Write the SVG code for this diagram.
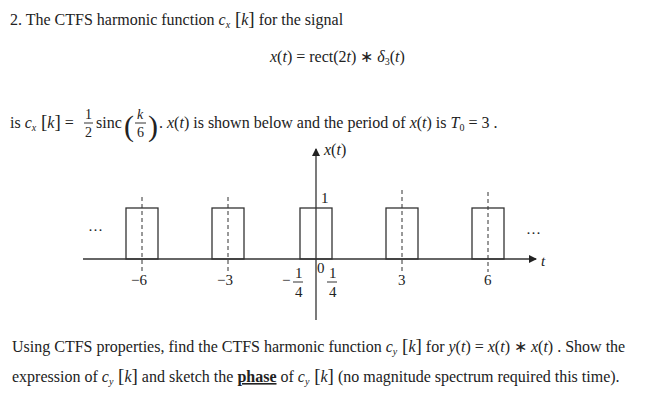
<svg xmlns="http://www.w3.org/2000/svg" width="647" height="411" viewBox="0 0 647 411">
<style>
text{font-family:"Liberation Serif","Times New Roman",serif;fill:#222}
.t{font-size:16px}
.i{font-style:italic}
.s{font-size:10px}
.b{font-size:19px}
.f{font-size:14px}
.p{font-size:30px}
.l{font-size:15px}
.ax{stroke:#333;stroke-width:1.3;fill:none}
.r{stroke:#333;stroke-width:1.3;fill:none}
.d{stroke:#333;stroke-width:1;stroke-dasharray:4,3;fill:none}
</style>
<defs><marker id="ah" markerWidth="8" markerHeight="8" refX="7" refY="4" orient="auto" markerUnits="userSpaceOnUse"><path d="M0,0L8,4L0,8z" fill="#222"/></marker></defs>
<g id="text">
<text class="t" x="10" y="25">2. The CTFS harmonic function <tspan class="i">c</tspan><tspan class="i s" dy="3">x</tspan><tspan dy="-3" class="b"> [</tspan><tspan class="i">k</tspan><tspan class="b">]</tspan> for the signal</text>
<text class="t" x="270" y="62"><tspan class="i">x</tspan>(<tspan class="i">t</tspan>) = rect(2<tspan class="i">t</tspan>) ∗ <tspan class="i">δ</tspan><tspan class="s" dy="3">3</tspan><tspan dy="-3">(</tspan><tspan class="i">t</tspan>)</text>
<text class="t" x="10" y="128">is <tspan class="i">c</tspan><tspan class="i s" dy="3">x</tspan><tspan dy="-3" class="b"> [</tspan><tspan class="i">k</tspan><tspan class="b">]</tspan> =</text>
<text class="f" x="85" y="119">1</text><line x1="84" y1="123" x2="93" y2="123" stroke="#333"/><text class="f" x="85" y="137">2</text>
<text class="t" x="96" y="128">sinc</text>
<text class="p" x="124" y="136">(</text>
<text class="f i" x="137" y="119">k</text><line x1="135" y1="123" x2="146" y2="123" stroke="#333"/><text class="f" x="137" y="137">6</text>
<text class="p" x="148" y="136">)</text>
<text class="t" x="159" y="128">. <tspan class="i">x</tspan>(<tspan class="i">t</tspan>) is shown below and the period of <tspan class="i">x</tspan>(<tspan class="i">t</tspan>) is <tspan class="i">T</tspan><tspan class="s" dy="3">0</tspan><tspan dy="-3"> = 3 .</tspan></text>
<text class="t" x="12" y="352">Using CTFS properties, find the CTFS harmonic function <tspan class="i">c</tspan><tspan class="i s" dy="3">y</tspan><tspan dy="-3" class="b"> [</tspan><tspan class="i">k</tspan><tspan class="b">]</tspan> for <tspan class="i">y</tspan>(<tspan class="i">t</tspan>) = <tspan class="i">x</tspan>(<tspan class="i">t</tspan>) ∗ <tspan class="i">x</tspan>(<tspan class="i">t</tspan>) . Show the</text>
<text class="t" x="12" y="382">expression of <tspan class="i">c</tspan><tspan class="i s" dy="3">y</tspan><tspan dy="-3" class="b"> [</tspan><tspan class="i">k</tspan><tspan class="b">]</tspan> and sketch the <tspan font-weight="bold" text-decoration="underline">phase</tspan> of <tspan class="i">c</tspan><tspan class="i s" dy="3">y</tspan><tspan dy="-3" class="b"> [</tspan><tspan class="i">k</tspan><tspan class="b">]</tspan> (no magnitude spectrum required this time).</text>
</g>
<g id="axes">
<line class="ax" x1="83" y1="259" x2="536" y2="259" marker-end="url(#ah)"/>
<line class="ax" x1="316" y1="320" x2="316" y2="149" marker-end="url(#ah)"/>
<text class="t" x="324" y="155"><tspan class="i">x</tspan>(<tspan class="i">t</tspan>)</text>
<text class="l i" x="541" y="266">t</text>
</g>
<g id="pulses">
<rect class="r" x="126" y="208" width="32" height="51"/>
<rect class="r" x="212" y="208" width="32" height="51"/>
<rect class="r" x="300" y="208" width="32" height="51"/>
<rect class="r" x="386" y="208" width="32" height="51"/>
<rect class="r" x="472" y="208" width="32" height="51"/>
<line class="d" x1="142" y1="197" x2="142" y2="272"/>
<line class="d" x1="228" y1="197" x2="228" y2="272"/>
<line class="d" x1="402" y1="190" x2="402" y2="272"/>
<line class="d" x1="488" y1="192" x2="488" y2="272"/>
</g>
<g id="labels">
<text class="l" x="88" y="235">···</text>
<text class="l" x="526" y="238">···</text>
<text class="l" x="321" y="203">1</text>
<text class="l" x="131" y="285">−6</text>
<text class="l" x="217" y="285">−3</text>
<text class="l" x="398" y="285">3</text>
<text class="l" x="484" y="285">6</text>
<text class="l" x="317" y="273">0</text>
<text class="l" x="282" y="285">−</text>
<text class="l" x="295" y="278">1</text><line x1="293" y1="282" x2="303" y2="282" stroke="#333"/><text class="l" x="295" y="297">4</text>
<text class="l" x="329" y="278">1</text><line x1="327" y1="282" x2="337" y2="282" stroke="#333"/><text class="l" x="329" y="297">4</text>
</g>
</svg>
